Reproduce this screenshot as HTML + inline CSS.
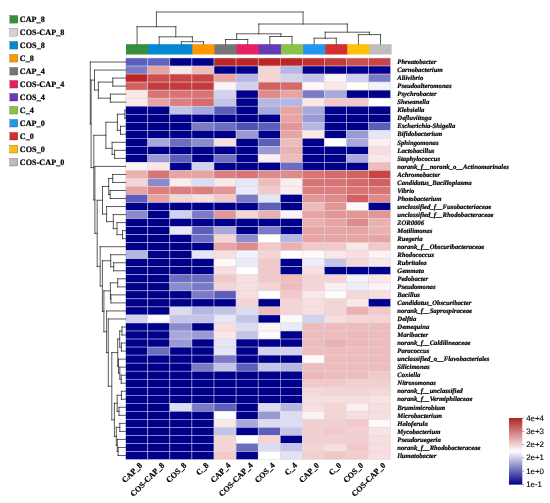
<!DOCTYPE html>
<html><head><meta charset="utf-8"><title>Heatmap</title>
<style>html,body{margin:0;padding:0;background:#fff}svg{display:block}text{text-rendering:geometricPrecision}</style>
</head><body>
<svg width="550" height="503" viewBox="0 0 550 503">
<defs><linearGradient id="g" x1="0" y1="0" x2="0" y2="1"><stop offset="0" stop-color="#b22222"/><stop offset="0.5" stop-color="#ffffff"/><stop offset="1" stop-color="#00008b"/></linearGradient></defs>
<rect width="550" height="503" fill="#fff"/>
<g font-family="'Liberation Serif', serif" font-weight="bold" font-size="8.2" fill="#000" stroke="#000" stroke-width="0.2">
<rect x="9.8" y="15.50" width="8.0" height="7.6" fill="#388E3C"/><text x="19.8" y="22.10">CAP_8</text>
<rect x="9.8" y="28.49" width="8.0" height="7.6" fill="#D3D3D3"/><text x="19.8" y="35.09">COS-CAP_8</text>
<rect x="9.8" y="41.48" width="8.0" height="7.6" fill="#0288D1"/><text x="19.8" y="48.08">COS_8</text>
<rect x="9.8" y="54.47" width="8.0" height="7.6" fill="#FF9800"/><text x="19.8" y="61.07">C_8</text>
<rect x="9.8" y="67.46" width="8.0" height="7.6" fill="#757575"/><text x="19.8" y="74.06">CAP_4</text>
<rect x="9.8" y="80.45" width="8.0" height="7.6" fill="#E91E63"/><text x="19.8" y="87.05">COS-CAP_4</text>
<rect x="9.8" y="93.44" width="8.0" height="7.6" fill="#673AB7"/><text x="19.8" y="100.04">COS_4</text>
<rect x="9.8" y="106.43" width="8.0" height="7.6" fill="#8BC34A"/><text x="19.8" y="113.03">C_4</text>
<rect x="9.8" y="119.42" width="8.0" height="7.6" fill="#2196F3"/><text x="19.8" y="126.02">CAP_0</text>
<rect x="9.8" y="132.41" width="8.0" height="7.6" fill="#D32F2F"/><text x="19.8" y="139.01">C_0</text>
<rect x="9.8" y="145.40" width="8.0" height="7.6" fill="#FFC107"/><text x="19.8" y="152.00">COS_0</text>
<rect x="9.8" y="158.39" width="8.0" height="7.6" fill="#BDBDBD"/><text x="19.8" y="164.99">COS-CAP_0</text>
</g>
<g>
<rect x="126.00" y="44.2" width="22.63" height="10.3" fill="#388E3C"/>
<rect x="148.13" y="44.2" width="44.77" height="10.3" fill="#0288D1"/>
<rect x="192.40" y="44.2" width="22.63" height="10.3" fill="#FF9800"/>
<rect x="214.53" y="44.2" width="22.63" height="10.3" fill="#757575"/>
<rect x="236.67" y="44.2" width="22.63" height="10.3" fill="#E91E63"/>
<rect x="258.80" y="44.2" width="22.63" height="10.3" fill="#673AB7"/>
<rect x="280.93" y="44.2" width="22.63" height="10.3" fill="#8BC34A"/>
<rect x="303.07" y="44.2" width="22.63" height="10.3" fill="#2196F3"/>
<rect x="325.20" y="44.2" width="22.63" height="10.3" fill="#D32F2F"/>
<rect x="347.33" y="44.2" width="22.63" height="10.3" fill="#FFC107"/>
<rect x="369.47" y="44.2" width="22.13" height="10.3" fill="#BDBDBD"/>
</g>
<g stroke="#d8d8e0" stroke-width="0.45">
<rect x="125.75" y="58.00" width="22.07" height="8.03" fill="#5d5dbb"/>
<rect x="147.82" y="58.00" width="22.07" height="8.03" fill="#6363bd"/>
<rect x="169.88" y="58.00" width="22.07" height="8.03" fill="#00008b"/>
<rect x="191.95" y="58.00" width="22.07" height="8.03" fill="#00008b"/>
<rect x="214.02" y="58.00" width="22.07" height="8.03" fill="#bc2626"/>
<rect x="236.08" y="58.00" width="22.07" height="8.03" fill="#bc2626"/>
<rect x="258.15" y="58.00" width="22.07" height="8.03" fill="#bc2626"/>
<rect x="280.22" y="58.00" width="22.07" height="8.03" fill="#bc2626"/>
<rect x="302.28" y="58.00" width="22.07" height="8.03" fill="#c03030"/>
<rect x="324.35" y="58.00" width="22.07" height="8.03" fill="#c53a3a"/>
<rect x="346.42" y="58.00" width="22.07" height="8.03" fill="#cd5050"/>
<rect x="368.48" y="58.00" width="22.07" height="8.03" fill="#c94545"/>
<rect x="125.75" y="66.03" width="22.07" height="8.03" fill="#7a7ac7"/>
<rect x="147.82" y="66.03" width="22.07" height="8.03" fill="#e8a3a3"/>
<rect x="169.88" y="66.03" width="22.07" height="8.03" fill="#fae8e8"/>
<rect x="191.95" y="66.03" width="22.07" height="8.03" fill="#eebcbc"/>
<rect x="214.02" y="66.03" width="22.07" height="8.03" fill="#00008b"/>
<rect x="236.08" y="66.03" width="22.07" height="8.03" fill="#00008b"/>
<rect x="258.15" y="66.03" width="22.07" height="8.03" fill="#f5d4d4"/>
<rect x="280.22" y="66.03" width="22.07" height="8.03" fill="#b6b6e3"/>
<rect x="302.28" y="66.03" width="22.07" height="8.03" fill="#00008b"/>
<rect x="324.35" y="66.03" width="22.07" height="8.03" fill="#00008b"/>
<rect x="346.42" y="66.03" width="22.07" height="8.03" fill="#00008b"/>
<rect x="368.48" y="66.03" width="22.07" height="8.03" fill="#00008b"/>
<rect x="125.75" y="74.06" width="22.07" height="8.03" fill="#bc2626"/>
<rect x="147.82" y="74.06" width="22.07" height="8.03" fill="#cd5050"/>
<rect x="169.88" y="74.06" width="22.07" height="8.03" fill="#c94545"/>
<rect x="191.95" y="74.06" width="22.07" height="8.03" fill="#c94545"/>
<rect x="214.02" y="74.06" width="22.07" height="8.03" fill="#e8a3a3"/>
<rect x="236.08" y="74.06" width="22.07" height="8.03" fill="#b6b6e3"/>
<rect x="258.15" y="74.06" width="22.07" height="8.03" fill="#f5d4d4"/>
<rect x="280.22" y="74.06" width="22.07" height="8.03" fill="#d2d2ee"/>
<rect x="302.28" y="74.06" width="22.07" height="8.03" fill="#c4c4e8"/>
<rect x="324.35" y="74.06" width="22.07" height="8.03" fill="#fcf4f4"/>
<rect x="346.42" y="74.06" width="22.07" height="8.03" fill="#d2d2ee"/>
<rect x="368.48" y="74.06" width="22.07" height="8.03" fill="#7a7ac7"/>
<rect x="125.75" y="82.09" width="22.07" height="8.03" fill="#d46161"/>
<rect x="147.82" y="82.09" width="22.07" height="8.03" fill="#c53a3a"/>
<rect x="169.88" y="82.09" width="22.07" height="8.03" fill="#c53a3a"/>
<rect x="191.95" y="82.09" width="22.07" height="8.03" fill="#c53a3a"/>
<rect x="214.02" y="82.09" width="22.07" height="8.03" fill="#fcf4f4"/>
<rect x="236.08" y="82.09" width="22.07" height="8.03" fill="#d2d2ee"/>
<rect x="258.15" y="82.09" width="22.07" height="8.03" fill="#d46161"/>
<rect x="280.22" y="82.09" width="22.07" height="8.03" fill="#d76a6a"/>
<rect x="302.28" y="82.09" width="22.07" height="8.03" fill="#fef8f8"/>
<rect x="324.35" y="82.09" width="22.07" height="8.03" fill="#fae8e8"/>
<rect x="346.42" y="82.09" width="22.07" height="8.03" fill="#ffffff"/>
<rect x="368.48" y="82.09" width="22.07" height="8.03" fill="#f2f2fa"/>
<rect x="125.75" y="90.12" width="22.07" height="8.03" fill="#fae8e8"/>
<rect x="147.82" y="90.12" width="22.07" height="8.03" fill="#da7474"/>
<rect x="169.88" y="90.12" width="22.07" height="8.03" fill="#da7474"/>
<rect x="191.95" y="90.12" width="22.07" height="8.03" fill="#da7474"/>
<rect x="214.02" y="90.12" width="22.07" height="8.03" fill="#d2d2ee"/>
<rect x="236.08" y="90.12" width="22.07" height="8.03" fill="#00008b"/>
<rect x="258.15" y="90.12" width="22.07" height="8.03" fill="#e18a8a"/>
<rect x="280.22" y="90.12" width="22.07" height="8.03" fill="#e8a3a3"/>
<rect x="302.28" y="90.12" width="22.07" height="8.03" fill="#7a7ac7"/>
<rect x="324.35" y="90.12" width="22.07" height="8.03" fill="#a8a8dc"/>
<rect x="346.42" y="90.12" width="22.07" height="8.03" fill="#00008b"/>
<rect x="368.48" y="90.12" width="22.07" height="8.03" fill="#00008b"/>
<rect x="125.75" y="98.15" width="22.07" height="8.03" fill="#fae8e8"/>
<rect x="147.82" y="98.15" width="22.07" height="8.03" fill="#e8a3a3"/>
<rect x="169.88" y="98.15" width="22.07" height="8.03" fill="#de7f7f"/>
<rect x="191.95" y="98.15" width="22.07" height="8.03" fill="#d76a6a"/>
<rect x="214.02" y="98.15" width="22.07" height="8.03" fill="#c4c4e8"/>
<rect x="236.08" y="98.15" width="22.07" height="8.03" fill="#00008b"/>
<rect x="258.15" y="98.15" width="22.07" height="8.03" fill="#b6b6e3"/>
<rect x="280.22" y="98.15" width="22.07" height="8.03" fill="#b6b6e3"/>
<rect x="302.28" y="98.15" width="22.07" height="8.03" fill="#fae8e8"/>
<rect x="324.35" y="98.15" width="22.07" height="8.03" fill="#f2c8c8"/>
<rect x="346.42" y="98.15" width="22.07" height="8.03" fill="#f2c8c8"/>
<rect x="368.48" y="98.15" width="22.07" height="8.03" fill="#ffffff"/>
<rect x="125.75" y="106.18" width="22.07" height="8.03" fill="#00008b"/>
<rect x="147.82" y="106.18" width="22.07" height="8.03" fill="#00008b"/>
<rect x="169.88" y="106.18" width="22.07" height="8.03" fill="#c4c4e8"/>
<rect x="191.95" y="106.18" width="22.07" height="8.03" fill="#a8a8dc"/>
<rect x="214.02" y="106.18" width="22.07" height="8.03" fill="#5d5dbb"/>
<rect x="236.08" y="106.18" width="22.07" height="8.03" fill="#00008b"/>
<rect x="258.15" y="106.18" width="22.07" height="8.03" fill="#a8a8dc"/>
<rect x="280.22" y="106.18" width="22.07" height="8.03" fill="#e8a3a3"/>
<rect x="302.28" y="106.18" width="22.07" height="8.03" fill="#a8a8dc"/>
<rect x="324.35" y="106.18" width="22.07" height="8.03" fill="#00008b"/>
<rect x="346.42" y="106.18" width="22.07" height="8.03" fill="#00008b"/>
<rect x="368.48" y="106.18" width="22.07" height="8.03" fill="#00008b"/>
<rect x="125.75" y="114.21" width="22.07" height="8.03" fill="#00008b"/>
<rect x="147.82" y="114.21" width="22.07" height="8.03" fill="#00008b"/>
<rect x="169.88" y="114.21" width="22.07" height="8.03" fill="#00008b"/>
<rect x="191.95" y="114.21" width="22.07" height="8.03" fill="#00008b"/>
<rect x="214.02" y="114.21" width="22.07" height="8.03" fill="#00008b"/>
<rect x="236.08" y="114.21" width="22.07" height="8.03" fill="#00008b"/>
<rect x="258.15" y="114.21" width="22.07" height="8.03" fill="#00008b"/>
<rect x="280.22" y="114.21" width="22.07" height="8.03" fill="#e8a3a3"/>
<rect x="302.28" y="114.21" width="22.07" height="8.03" fill="#9999d6"/>
<rect x="324.35" y="114.21" width="22.07" height="8.03" fill="#00008b"/>
<rect x="346.42" y="114.21" width="22.07" height="8.03" fill="#00008b"/>
<rect x="368.48" y="114.21" width="22.07" height="8.03" fill="#00008b"/>
<rect x="125.75" y="122.24" width="22.07" height="8.03" fill="#00008b"/>
<rect x="147.82" y="122.24" width="22.07" height="8.03" fill="#00008b"/>
<rect x="169.88" y="122.24" width="22.07" height="8.03" fill="#00008b"/>
<rect x="191.95" y="122.24" width="22.07" height="8.03" fill="#7a7ac7"/>
<rect x="214.02" y="122.24" width="22.07" height="8.03" fill="#6c6cc1"/>
<rect x="236.08" y="122.24" width="22.07" height="8.03" fill="#5151b5"/>
<rect x="258.15" y="122.24" width="22.07" height="8.03" fill="#5d5dbb"/>
<rect x="280.22" y="122.24" width="22.07" height="8.03" fill="#e49696"/>
<rect x="302.28" y="122.24" width="22.07" height="8.03" fill="#b6b6e3"/>
<rect x="324.35" y="122.24" width="22.07" height="8.03" fill="#00008b"/>
<rect x="346.42" y="122.24" width="22.07" height="8.03" fill="#00008b"/>
<rect x="368.48" y="122.24" width="22.07" height="8.03" fill="#5d5dbb"/>
<rect x="125.75" y="130.27" width="22.07" height="8.03" fill="#00008b"/>
<rect x="147.82" y="130.27" width="22.07" height="8.03" fill="#00008b"/>
<rect x="169.88" y="130.27" width="22.07" height="8.03" fill="#00008b"/>
<rect x="191.95" y="130.27" width="22.07" height="8.03" fill="#00008b"/>
<rect x="214.02" y="130.27" width="22.07" height="8.03" fill="#00008b"/>
<rect x="236.08" y="130.27" width="22.07" height="8.03" fill="#9999d6"/>
<rect x="258.15" y="130.27" width="22.07" height="8.03" fill="#00008b"/>
<rect x="280.22" y="130.27" width="22.07" height="8.03" fill="#e8a3a3"/>
<rect x="302.28" y="130.27" width="22.07" height="8.03" fill="#fae8e8"/>
<rect x="324.35" y="130.27" width="22.07" height="8.03" fill="#00008b"/>
<rect x="346.42" y="130.27" width="22.07" height="8.03" fill="#9999d6"/>
<rect x="368.48" y="130.27" width="22.07" height="8.03" fill="#e6e6f6"/>
<rect x="125.75" y="138.30" width="22.07" height="8.03" fill="#00008b"/>
<rect x="147.82" y="138.30" width="22.07" height="8.03" fill="#a8a8dc"/>
<rect x="169.88" y="138.30" width="22.07" height="8.03" fill="#6c6cc1"/>
<rect x="191.95" y="138.30" width="22.07" height="8.03" fill="#8a8ace"/>
<rect x="214.02" y="138.30" width="22.07" height="8.03" fill="#f8dede"/>
<rect x="236.08" y="138.30" width="22.07" height="8.03" fill="#00008b"/>
<rect x="258.15" y="138.30" width="22.07" height="8.03" fill="#5d5dbb"/>
<rect x="280.22" y="138.30" width="22.07" height="8.03" fill="#eebcbc"/>
<rect x="302.28" y="138.30" width="22.07" height="8.03" fill="#00008b"/>
<rect x="324.35" y="138.30" width="22.07" height="8.03" fill="#ffffff"/>
<rect x="346.42" y="138.30" width="22.07" height="8.03" fill="#a8a8dc"/>
<rect x="368.48" y="138.30" width="22.07" height="8.03" fill="#fcefef"/>
<rect x="125.75" y="146.33" width="22.07" height="8.03" fill="#00008b"/>
<rect x="147.82" y="146.33" width="22.07" height="8.03" fill="#00008b"/>
<rect x="169.88" y="146.33" width="22.07" height="8.03" fill="#00008b"/>
<rect x="191.95" y="146.33" width="22.07" height="8.03" fill="#00008b"/>
<rect x="214.02" y="146.33" width="22.07" height="8.03" fill="#00008b"/>
<rect x="236.08" y="146.33" width="22.07" height="8.03" fill="#00008b"/>
<rect x="258.15" y="146.33" width="22.07" height="8.03" fill="#9999d6"/>
<rect x="280.22" y="146.33" width="22.07" height="8.03" fill="#ebb0b0"/>
<rect x="302.28" y="146.33" width="22.07" height="8.03" fill="#00008b"/>
<rect x="324.35" y="146.33" width="22.07" height="8.03" fill="#00008b"/>
<rect x="346.42" y="146.33" width="22.07" height="8.03" fill="#00008b"/>
<rect x="368.48" y="146.33" width="22.07" height="8.03" fill="#f8dede"/>
<rect x="125.75" y="154.36" width="22.07" height="8.03" fill="#00008b"/>
<rect x="147.82" y="154.36" width="22.07" height="8.03" fill="#9999d6"/>
<rect x="169.88" y="154.36" width="22.07" height="8.03" fill="#5d5dbb"/>
<rect x="191.95" y="154.36" width="22.07" height="8.03" fill="#00008b"/>
<rect x="214.02" y="154.36" width="22.07" height="8.03" fill="#6c6cc1"/>
<rect x="236.08" y="154.36" width="22.07" height="8.03" fill="#00008b"/>
<rect x="258.15" y="154.36" width="22.07" height="8.03" fill="#fcefef"/>
<rect x="280.22" y="154.36" width="22.07" height="8.03" fill="#eebcbc"/>
<rect x="302.28" y="154.36" width="22.07" height="8.03" fill="#00008b"/>
<rect x="324.35" y="154.36" width="22.07" height="8.03" fill="#00008b"/>
<rect x="346.42" y="154.36" width="22.07" height="8.03" fill="#a8a8dc"/>
<rect x="368.48" y="154.36" width="22.07" height="8.03" fill="#fae8e8"/>
<rect x="125.75" y="162.39" width="22.07" height="8.03" fill="#fcf4f4"/>
<rect x="147.82" y="162.39" width="22.07" height="8.03" fill="#fae8e8"/>
<rect x="169.88" y="162.39" width="22.07" height="8.03" fill="#00008b"/>
<rect x="191.95" y="162.39" width="22.07" height="8.03" fill="#d2d2ee"/>
<rect x="214.02" y="162.39" width="22.07" height="8.03" fill="#00008b"/>
<rect x="236.08" y="162.39" width="22.07" height="8.03" fill="#00008b"/>
<rect x="258.15" y="162.39" width="22.07" height="8.03" fill="#00008b"/>
<rect x="280.22" y="162.39" width="22.07" height="8.03" fill="#6c6cc1"/>
<rect x="302.28" y="162.39" width="22.07" height="8.03" fill="#00008b"/>
<rect x="324.35" y="162.39" width="22.07" height="8.03" fill="#00008b"/>
<rect x="346.42" y="162.39" width="22.07" height="8.03" fill="#00008b"/>
<rect x="368.48" y="162.39" width="22.07" height="8.03" fill="#eebcbc"/>
<rect x="125.75" y="170.42" width="22.07" height="8.03" fill="#ebb0b0"/>
<rect x="147.82" y="170.42" width="22.07" height="8.03" fill="#da7474"/>
<rect x="169.88" y="170.42" width="22.07" height="8.03" fill="#e8a3a3"/>
<rect x="191.95" y="170.42" width="22.07" height="8.03" fill="#e8a3a3"/>
<rect x="214.02" y="170.42" width="22.07" height="8.03" fill="#de7f7f"/>
<rect x="236.08" y="170.42" width="22.07" height="8.03" fill="#da7474"/>
<rect x="258.15" y="170.42" width="22.07" height="8.03" fill="#e18a8a"/>
<rect x="280.22" y="170.42" width="22.07" height="8.03" fill="#e18a8a"/>
<rect x="302.28" y="170.42" width="22.07" height="8.03" fill="#da7474"/>
<rect x="324.35" y="170.42" width="22.07" height="8.03" fill="#d76a6a"/>
<rect x="346.42" y="170.42" width="22.07" height="8.03" fill="#d46161"/>
<rect x="368.48" y="170.42" width="22.07" height="8.03" fill="#c94545"/>
<rect x="125.75" y="178.45" width="22.07" height="8.03" fill="#f5d4d4"/>
<rect x="147.82" y="178.45" width="22.07" height="8.03" fill="#8a8ace"/>
<rect x="169.88" y="178.45" width="22.07" height="8.03" fill="#fbeded"/>
<rect x="191.95" y="178.45" width="22.07" height="8.03" fill="#dcdcf2"/>
<rect x="214.02" y="178.45" width="22.07" height="8.03" fill="#fae8e8"/>
<rect x="236.08" y="178.45" width="22.07" height="8.03" fill="#e6e6f6"/>
<rect x="258.15" y="178.45" width="22.07" height="8.03" fill="#eebcbc"/>
<rect x="280.22" y="178.45" width="22.07" height="8.03" fill="#fbeded"/>
<rect x="302.28" y="178.45" width="22.07" height="8.03" fill="#da7474"/>
<rect x="324.35" y="178.45" width="22.07" height="8.03" fill="#da7474"/>
<rect x="346.42" y="178.45" width="22.07" height="8.03" fill="#d76a6a"/>
<rect x="368.48" y="178.45" width="22.07" height="8.03" fill="#d46161"/>
<rect x="125.75" y="186.48" width="22.07" height="8.03" fill="#e8a3a3"/>
<rect x="147.82" y="186.48" width="22.07" height="8.03" fill="#de7f7f"/>
<rect x="169.88" y="186.48" width="22.07" height="8.03" fill="#de7f7f"/>
<rect x="191.95" y="186.48" width="22.07" height="8.03" fill="#de7f7f"/>
<rect x="214.02" y="186.48" width="22.07" height="8.03" fill="#e49696"/>
<rect x="236.08" y="186.48" width="22.07" height="8.03" fill="#ebebf8"/>
<rect x="258.15" y="186.48" width="22.07" height="8.03" fill="#f2c8c8"/>
<rect x="280.22" y="186.48" width="22.07" height="8.03" fill="#fbeded"/>
<rect x="302.28" y="186.48" width="22.07" height="8.03" fill="#de7f7f"/>
<rect x="324.35" y="186.48" width="22.07" height="8.03" fill="#de7f7f"/>
<rect x="346.42" y="186.48" width="22.07" height="8.03" fill="#da7474"/>
<rect x="368.48" y="186.48" width="22.07" height="8.03" fill="#da7474"/>
<rect x="125.75" y="194.51" width="22.07" height="8.03" fill="#5d5dbb"/>
<rect x="147.82" y="194.51" width="22.07" height="8.03" fill="#e8a3a3"/>
<rect x="169.88" y="194.51" width="22.07" height="8.03" fill="#f5d4d4"/>
<rect x="191.95" y="194.51" width="22.07" height="8.03" fill="#f8dede"/>
<rect x="214.02" y="194.51" width="22.07" height="8.03" fill="#f2c8c8"/>
<rect x="236.08" y="194.51" width="22.07" height="8.03" fill="#7a7ac7"/>
<rect x="258.15" y="194.51" width="22.07" height="8.03" fill="#e6e6f6"/>
<rect x="280.22" y="194.51" width="22.07" height="8.03" fill="#00008b"/>
<rect x="302.28" y="194.51" width="22.07" height="8.03" fill="#e49696"/>
<rect x="324.35" y="194.51" width="22.07" height="8.03" fill="#e18a8a"/>
<rect x="346.42" y="194.51" width="22.07" height="8.03" fill="#d46161"/>
<rect x="368.48" y="194.51" width="22.07" height="8.03" fill="#e18a8a"/>
<rect x="125.75" y="202.54" width="22.07" height="8.03" fill="#00008b"/>
<rect x="147.82" y="202.54" width="22.07" height="8.03" fill="#00008b"/>
<rect x="169.88" y="202.54" width="22.07" height="8.03" fill="#00008b"/>
<rect x="191.95" y="202.54" width="22.07" height="8.03" fill="#00008b"/>
<rect x="214.02" y="202.54" width="22.07" height="8.03" fill="#00008b"/>
<rect x="236.08" y="202.54" width="22.07" height="8.03" fill="#00008b"/>
<rect x="258.15" y="202.54" width="22.07" height="8.03" fill="#5d5dbb"/>
<rect x="280.22" y="202.54" width="22.07" height="8.03" fill="#00008b"/>
<rect x="302.28" y="202.54" width="22.07" height="8.03" fill="#eebcbc"/>
<rect x="324.35" y="202.54" width="22.07" height="8.03" fill="#e49696"/>
<rect x="346.42" y="202.54" width="22.07" height="8.03" fill="#fef8f8"/>
<rect x="368.48" y="202.54" width="22.07" height="8.03" fill="#00008b"/>
<rect x="125.75" y="210.57" width="22.07" height="8.03" fill="#8a8ace"/>
<rect x="147.82" y="210.57" width="22.07" height="8.03" fill="#00008b"/>
<rect x="169.88" y="210.57" width="22.07" height="8.03" fill="#d2d2ee"/>
<rect x="191.95" y="210.57" width="22.07" height="8.03" fill="#7a7ac7"/>
<rect x="214.02" y="210.57" width="22.07" height="8.03" fill="#e49696"/>
<rect x="236.08" y="210.57" width="22.07" height="8.03" fill="#f5d4d4"/>
<rect x="258.15" y="210.57" width="22.07" height="8.03" fill="#ebb0b0"/>
<rect x="280.22" y="210.57" width="22.07" height="8.03" fill="#fcf4f4"/>
<rect x="302.28" y="210.57" width="22.07" height="8.03" fill="#e8a3a3"/>
<rect x="324.35" y="210.57" width="22.07" height="8.03" fill="#e49696"/>
<rect x="346.42" y="210.57" width="22.07" height="8.03" fill="#e49696"/>
<rect x="368.48" y="210.57" width="22.07" height="8.03" fill="#e49696"/>
<rect x="125.75" y="218.60" width="22.07" height="8.03" fill="#00008b"/>
<rect x="147.82" y="218.60" width="22.07" height="8.03" fill="#00008b"/>
<rect x="169.88" y="218.60" width="22.07" height="8.03" fill="#00008b"/>
<rect x="191.95" y="218.60" width="22.07" height="8.03" fill="#00008b"/>
<rect x="214.02" y="218.60" width="22.07" height="8.03" fill="#00008b"/>
<rect x="236.08" y="218.60" width="22.07" height="8.03" fill="#00008b"/>
<rect x="258.15" y="218.60" width="22.07" height="8.03" fill="#00008b"/>
<rect x="280.22" y="218.60" width="22.07" height="8.03" fill="#00008b"/>
<rect x="302.28" y="218.60" width="22.07" height="8.03" fill="#ebb0b0"/>
<rect x="324.35" y="218.60" width="22.07" height="8.03" fill="#e8a3a3"/>
<rect x="346.42" y="218.60" width="22.07" height="8.03" fill="#e18a8a"/>
<rect x="368.48" y="218.60" width="22.07" height="8.03" fill="#ebb0b0"/>
<rect x="125.75" y="226.63" width="22.07" height="8.03" fill="#00008b"/>
<rect x="147.82" y="226.63" width="22.07" height="8.03" fill="#00008b"/>
<rect x="169.88" y="226.63" width="22.07" height="8.03" fill="#e6e6f6"/>
<rect x="191.95" y="226.63" width="22.07" height="8.03" fill="#5d5dbb"/>
<rect x="214.02" y="226.63" width="22.07" height="8.03" fill="#a8a8dc"/>
<rect x="236.08" y="226.63" width="22.07" height="8.03" fill="#00008b"/>
<rect x="258.15" y="226.63" width="22.07" height="8.03" fill="#7a7ac7"/>
<rect x="280.22" y="226.63" width="22.07" height="8.03" fill="#00008b"/>
<rect x="302.28" y="226.63" width="22.07" height="8.03" fill="#e8a3a3"/>
<rect x="324.35" y="226.63" width="22.07" height="8.03" fill="#e8a3a3"/>
<rect x="346.42" y="226.63" width="22.07" height="8.03" fill="#e8a3a3"/>
<rect x="368.48" y="226.63" width="22.07" height="8.03" fill="#ebb0b0"/>
<rect x="125.75" y="234.66" width="22.07" height="8.03" fill="#00008b"/>
<rect x="147.82" y="234.66" width="22.07" height="8.03" fill="#00008b"/>
<rect x="169.88" y="234.66" width="22.07" height="8.03" fill="#00008b"/>
<rect x="191.95" y="234.66" width="22.07" height="8.03" fill="#6c6cc1"/>
<rect x="214.02" y="234.66" width="22.07" height="8.03" fill="#f5d4d4"/>
<rect x="236.08" y="234.66" width="22.07" height="8.03" fill="#8a8ace"/>
<rect x="258.15" y="234.66" width="22.07" height="8.03" fill="#ffffff"/>
<rect x="280.22" y="234.66" width="22.07" height="8.03" fill="#b6b6e3"/>
<rect x="302.28" y="234.66" width="22.07" height="8.03" fill="#e8a3a3"/>
<rect x="324.35" y="234.66" width="22.07" height="8.03" fill="#e8a3a3"/>
<rect x="346.42" y="234.66" width="22.07" height="8.03" fill="#e8a3a3"/>
<rect x="368.48" y="234.66" width="22.07" height="8.03" fill="#e8a3a3"/>
<rect x="125.75" y="242.69" width="22.07" height="8.03" fill="#00008b"/>
<rect x="147.82" y="242.69" width="22.07" height="8.03" fill="#00008b"/>
<rect x="169.88" y="242.69" width="22.07" height="8.03" fill="#00008b"/>
<rect x="191.95" y="242.69" width="22.07" height="8.03" fill="#00008b"/>
<rect x="214.02" y="242.69" width="22.07" height="8.03" fill="#e8a3a3"/>
<rect x="236.08" y="242.69" width="22.07" height="8.03" fill="#e18a8a"/>
<rect x="258.15" y="242.69" width="22.07" height="8.03" fill="#f2c8c8"/>
<rect x="280.22" y="242.69" width="22.07" height="8.03" fill="#ebb0b0"/>
<rect x="302.28" y="242.69" width="22.07" height="8.03" fill="#f2c8c8"/>
<rect x="324.35" y="242.69" width="22.07" height="8.03" fill="#f2c8c8"/>
<rect x="346.42" y="242.69" width="22.07" height="8.03" fill="#fae8e8"/>
<rect x="368.48" y="242.69" width="22.07" height="8.03" fill="#f2c8c8"/>
<rect x="125.75" y="250.72" width="22.07" height="8.03" fill="#b6b6e3"/>
<rect x="147.82" y="250.72" width="22.07" height="8.03" fill="#00008b"/>
<rect x="169.88" y="250.72" width="22.07" height="8.03" fill="#00008b"/>
<rect x="191.95" y="250.72" width="22.07" height="8.03" fill="#e6e6f6"/>
<rect x="214.02" y="250.72" width="22.07" height="8.03" fill="#f8dede"/>
<rect x="236.08" y="250.72" width="22.07" height="8.03" fill="#f2f2fa"/>
<rect x="258.15" y="250.72" width="22.07" height="8.03" fill="#f5d4d4"/>
<rect x="280.22" y="250.72" width="22.07" height="8.03" fill="#ffffff"/>
<rect x="302.28" y="250.72" width="22.07" height="8.03" fill="#fefafa"/>
<rect x="324.35" y="250.72" width="22.07" height="8.03" fill="#fae8e8"/>
<rect x="346.42" y="250.72" width="22.07" height="8.03" fill="#f8dede"/>
<rect x="368.48" y="250.72" width="22.07" height="8.03" fill="#fcf4f4"/>
<rect x="125.75" y="258.75" width="22.07" height="8.03" fill="#00008b"/>
<rect x="147.82" y="258.75" width="22.07" height="8.03" fill="#00008b"/>
<rect x="169.88" y="258.75" width="22.07" height="8.03" fill="#00008b"/>
<rect x="191.95" y="258.75" width="22.07" height="8.03" fill="#00008b"/>
<rect x="214.02" y="258.75" width="22.07" height="8.03" fill="#fef8f8"/>
<rect x="236.08" y="258.75" width="22.07" height="8.03" fill="#ebebf8"/>
<rect x="258.15" y="258.75" width="22.07" height="8.03" fill="#f2c8c8"/>
<rect x="280.22" y="258.75" width="22.07" height="8.03" fill="#00008b"/>
<rect x="302.28" y="258.75" width="22.07" height="8.03" fill="#eeeef9"/>
<rect x="324.35" y="258.75" width="22.07" height="8.03" fill="#c4c4e8"/>
<rect x="346.42" y="258.75" width="22.07" height="8.03" fill="#f6d8d8"/>
<rect x="368.48" y="258.75" width="22.07" height="8.03" fill="#fae8e8"/>
<rect x="125.75" y="266.78" width="22.07" height="8.03" fill="#00008b"/>
<rect x="147.82" y="266.78" width="22.07" height="8.03" fill="#00008b"/>
<rect x="169.88" y="266.78" width="22.07" height="8.03" fill="#00008b"/>
<rect x="191.95" y="266.78" width="22.07" height="8.03" fill="#00008b"/>
<rect x="214.02" y="266.78" width="22.07" height="8.03" fill="#f8dede"/>
<rect x="236.08" y="266.78" width="22.07" height="8.03" fill="#ffffff"/>
<rect x="258.15" y="266.78" width="22.07" height="8.03" fill="#f2c8c8"/>
<rect x="280.22" y="266.78" width="22.07" height="8.03" fill="#00008b"/>
<rect x="302.28" y="266.78" width="22.07" height="8.03" fill="#f8dede"/>
<rect x="324.35" y="266.78" width="22.07" height="8.03" fill="#00008b"/>
<rect x="346.42" y="266.78" width="22.07" height="8.03" fill="#00008b"/>
<rect x="368.48" y="266.78" width="22.07" height="8.03" fill="#00008b"/>
<rect x="125.75" y="274.81" width="22.07" height="8.03" fill="#00008b"/>
<rect x="147.82" y="274.81" width="22.07" height="8.03" fill="#00008b"/>
<rect x="169.88" y="274.81" width="22.07" height="8.03" fill="#6c6cc1"/>
<rect x="191.95" y="274.81" width="22.07" height="8.03" fill="#6c6cc1"/>
<rect x="214.02" y="274.81" width="22.07" height="8.03" fill="#f2c8c8"/>
<rect x="236.08" y="274.81" width="22.07" height="8.03" fill="#f8dede"/>
<rect x="258.15" y="274.81" width="22.07" height="8.03" fill="#f2c8c8"/>
<rect x="280.22" y="274.81" width="22.07" height="8.03" fill="#eebcbc"/>
<rect x="302.28" y="274.81" width="22.07" height="8.03" fill="#f5d4d4"/>
<rect x="324.35" y="274.81" width="22.07" height="8.03" fill="#f5d4d4"/>
<rect x="346.42" y="274.81" width="22.07" height="8.03" fill="#f2f2fa"/>
<rect x="368.48" y="274.81" width="22.07" height="8.03" fill="#fae8e8"/>
<rect x="125.75" y="282.84" width="22.07" height="8.03" fill="#00008b"/>
<rect x="147.82" y="282.84" width="22.07" height="8.03" fill="#00008b"/>
<rect x="169.88" y="282.84" width="22.07" height="8.03" fill="#8a8ace"/>
<rect x="191.95" y="282.84" width="22.07" height="8.03" fill="#7a7ac7"/>
<rect x="214.02" y="282.84" width="22.07" height="8.03" fill="#f5d4d4"/>
<rect x="236.08" y="282.84" width="22.07" height="8.03" fill="#f8dede"/>
<rect x="258.15" y="282.84" width="22.07" height="8.03" fill="#f5d4d4"/>
<rect x="280.22" y="282.84" width="22.07" height="8.03" fill="#eebcbc"/>
<rect x="302.28" y="282.84" width="22.07" height="8.03" fill="#f5d4d4"/>
<rect x="324.35" y="282.84" width="22.07" height="8.03" fill="#fcefef"/>
<rect x="346.42" y="282.84" width="22.07" height="8.03" fill="#eeeef9"/>
<rect x="368.48" y="282.84" width="22.07" height="8.03" fill="#fcf4f4"/>
<rect x="125.75" y="290.87" width="22.07" height="8.03" fill="#00008b"/>
<rect x="147.82" y="290.87" width="22.07" height="8.03" fill="#00008b"/>
<rect x="169.88" y="290.87" width="22.07" height="8.03" fill="#00008b"/>
<rect x="191.95" y="290.87" width="22.07" height="8.03" fill="#7a7ac7"/>
<rect x="214.02" y="290.87" width="22.07" height="8.03" fill="#5d5dbb"/>
<rect x="236.08" y="290.87" width="22.07" height="8.03" fill="#f8dede"/>
<rect x="258.15" y="290.87" width="22.07" height="8.03" fill="#ffffff"/>
<rect x="280.22" y="290.87" width="22.07" height="8.03" fill="#f2c8c8"/>
<rect x="302.28" y="290.87" width="22.07" height="8.03" fill="#fae8e8"/>
<rect x="324.35" y="290.87" width="22.07" height="8.03" fill="#fefdfd"/>
<rect x="346.42" y="290.87" width="22.07" height="8.03" fill="#f6d8d8"/>
<rect x="368.48" y="290.87" width="22.07" height="8.03" fill="#f8dede"/>
<rect x="125.75" y="298.90" width="22.07" height="8.03" fill="#00008b"/>
<rect x="147.82" y="298.90" width="22.07" height="8.03" fill="#00008b"/>
<rect x="169.88" y="298.90" width="22.07" height="8.03" fill="#00008b"/>
<rect x="191.95" y="298.90" width="22.07" height="8.03" fill="#00008b"/>
<rect x="214.02" y="298.90" width="22.07" height="8.03" fill="#00008b"/>
<rect x="236.08" y="298.90" width="22.07" height="8.03" fill="#f5d4d4"/>
<rect x="258.15" y="298.90" width="22.07" height="8.03" fill="#00008b"/>
<rect x="280.22" y="298.90" width="22.07" height="8.03" fill="#f5d4d4"/>
<rect x="302.28" y="298.90" width="22.07" height="8.03" fill="#f8dede"/>
<rect x="324.35" y="298.90" width="22.07" height="8.03" fill="#f5d4d4"/>
<rect x="346.42" y="298.90" width="22.07" height="8.03" fill="#fae8e8"/>
<rect x="368.48" y="298.90" width="22.07" height="8.03" fill="#00008b"/>
<rect x="125.75" y="306.93" width="22.07" height="8.03" fill="#00008b"/>
<rect x="147.82" y="306.93" width="22.07" height="8.03" fill="#00008b"/>
<rect x="169.88" y="306.93" width="22.07" height="8.03" fill="#dcdcf2"/>
<rect x="191.95" y="306.93" width="22.07" height="8.03" fill="#b6b6e3"/>
<rect x="214.02" y="306.93" width="22.07" height="8.03" fill="#c4c4e8"/>
<rect x="236.08" y="306.93" width="22.07" height="8.03" fill="#dcdcf2"/>
<rect x="258.15" y="306.93" width="22.07" height="8.03" fill="#eebcbc"/>
<rect x="280.22" y="306.93" width="22.07" height="8.03" fill="#f5d4d4"/>
<rect x="302.28" y="306.93" width="22.07" height="8.03" fill="#f8dede"/>
<rect x="324.35" y="306.93" width="22.07" height="8.03" fill="#f5d4d4"/>
<rect x="346.42" y="306.93" width="22.07" height="8.03" fill="#ebb0b0"/>
<rect x="368.48" y="306.93" width="22.07" height="8.03" fill="#f2c8c8"/>
<rect x="125.75" y="314.96" width="22.07" height="8.03" fill="#d2d2ee"/>
<rect x="147.82" y="314.96" width="22.07" height="8.03" fill="#fefafa"/>
<rect x="169.88" y="314.96" width="22.07" height="8.03" fill="#c4c4e8"/>
<rect x="191.95" y="314.96" width="22.07" height="8.03" fill="#c4c4e8"/>
<rect x="214.02" y="314.96" width="22.07" height="8.03" fill="#e6e6f6"/>
<rect x="236.08" y="314.96" width="22.07" height="8.03" fill="#c4c4e8"/>
<rect x="258.15" y="314.96" width="22.07" height="8.03" fill="#00008b"/>
<rect x="280.22" y="314.96" width="22.07" height="8.03" fill="#fef8f8"/>
<rect x="302.28" y="314.96" width="22.07" height="8.03" fill="#d2d2ee"/>
<rect x="324.35" y="314.96" width="22.07" height="8.03" fill="#f8dede"/>
<rect x="346.42" y="314.96" width="22.07" height="8.03" fill="#f5d4d4"/>
<rect x="368.48" y="314.96" width="22.07" height="8.03" fill="#f5d4d4"/>
<rect x="125.75" y="322.99" width="22.07" height="8.03" fill="#00008b"/>
<rect x="147.82" y="322.99" width="22.07" height="8.03" fill="#00008b"/>
<rect x="169.88" y="322.99" width="22.07" height="8.03" fill="#8a8ace"/>
<rect x="191.95" y="322.99" width="22.07" height="8.03" fill="#00008b"/>
<rect x="214.02" y="322.99" width="22.07" height="8.03" fill="#f8dede"/>
<rect x="236.08" y="322.99" width="22.07" height="8.03" fill="#dcdcf2"/>
<rect x="258.15" y="322.99" width="22.07" height="8.03" fill="#fcf4f4"/>
<rect x="280.22" y="322.99" width="22.07" height="8.03" fill="#ebebf8"/>
<rect x="302.28" y="322.99" width="22.07" height="8.03" fill="#eebcbc"/>
<rect x="324.35" y="322.99" width="22.07" height="8.03" fill="#eebcbc"/>
<rect x="346.42" y="322.99" width="22.07" height="8.03" fill="#eebcbc"/>
<rect x="368.48" y="322.99" width="22.07" height="8.03" fill="#eebcbc"/>
<rect x="125.75" y="331.02" width="22.07" height="8.03" fill="#00008b"/>
<rect x="147.82" y="331.02" width="22.07" height="8.03" fill="#00008b"/>
<rect x="169.88" y="331.02" width="22.07" height="8.03" fill="#a8a8dc"/>
<rect x="191.95" y="331.02" width="22.07" height="8.03" fill="#9999d6"/>
<rect x="214.02" y="331.02" width="22.07" height="8.03" fill="#fae8e8"/>
<rect x="236.08" y="331.02" width="22.07" height="8.03" fill="#c4c4e8"/>
<rect x="258.15" y="331.02" width="22.07" height="8.03" fill="#fef8f8"/>
<rect x="280.22" y="331.02" width="22.07" height="8.03" fill="#00008b"/>
<rect x="302.28" y="331.02" width="22.07" height="8.03" fill="#eebcbc"/>
<rect x="324.35" y="331.02" width="22.07" height="8.03" fill="#eebcbc"/>
<rect x="346.42" y="331.02" width="22.07" height="8.03" fill="#edb7b7"/>
<rect x="368.48" y="331.02" width="22.07" height="8.03" fill="#eebcbc"/>
<rect x="125.75" y="339.05" width="22.07" height="8.03" fill="#00008b"/>
<rect x="147.82" y="339.05" width="22.07" height="8.03" fill="#00008b"/>
<rect x="169.88" y="339.05" width="22.07" height="8.03" fill="#9999d6"/>
<rect x="191.95" y="339.05" width="22.07" height="8.03" fill="#00008b"/>
<rect x="214.02" y="339.05" width="22.07" height="8.03" fill="#e6e6f6"/>
<rect x="236.08" y="339.05" width="22.07" height="8.03" fill="#00008b"/>
<rect x="258.15" y="339.05" width="22.07" height="8.03" fill="#00008b"/>
<rect x="280.22" y="339.05" width="22.07" height="8.03" fill="#00008b"/>
<rect x="302.28" y="339.05" width="22.07" height="8.03" fill="#eebcbc"/>
<rect x="324.35" y="339.05" width="22.07" height="8.03" fill="#ebb0b0"/>
<rect x="346.42" y="339.05" width="22.07" height="8.03" fill="#edb7b7"/>
<rect x="368.48" y="339.05" width="22.07" height="8.03" fill="#eebcbc"/>
<rect x="125.75" y="347.08" width="22.07" height="8.03" fill="#00008b"/>
<rect x="147.82" y="347.08" width="22.07" height="8.03" fill="#6c6cc1"/>
<rect x="169.88" y="347.08" width="22.07" height="8.03" fill="#00008b"/>
<rect x="191.95" y="347.08" width="22.07" height="8.03" fill="#00008b"/>
<rect x="214.02" y="347.08" width="22.07" height="8.03" fill="#e6e6f6"/>
<rect x="236.08" y="347.08" width="22.07" height="8.03" fill="#00008b"/>
<rect x="258.15" y="347.08" width="22.07" height="8.03" fill="#d2d2ee"/>
<rect x="280.22" y="347.08" width="22.07" height="8.03" fill="#d2d2ee"/>
<rect x="302.28" y="347.08" width="22.07" height="8.03" fill="#eebcbc"/>
<rect x="324.35" y="347.08" width="22.07" height="8.03" fill="#eebcbc"/>
<rect x="346.42" y="347.08" width="22.07" height="8.03" fill="#eebcbc"/>
<rect x="368.48" y="347.08" width="22.07" height="8.03" fill="#eebcbc"/>
<rect x="125.75" y="355.11" width="22.07" height="8.03" fill="#00008b"/>
<rect x="147.82" y="355.11" width="22.07" height="8.03" fill="#00008b"/>
<rect x="169.88" y="355.11" width="22.07" height="8.03" fill="#00008b"/>
<rect x="191.95" y="355.11" width="22.07" height="8.03" fill="#00008b"/>
<rect x="214.02" y="355.11" width="22.07" height="8.03" fill="#7a7ac7"/>
<rect x="236.08" y="355.11" width="22.07" height="8.03" fill="#00008b"/>
<rect x="258.15" y="355.11" width="22.07" height="8.03" fill="#00008b"/>
<rect x="280.22" y="355.11" width="22.07" height="8.03" fill="#00008b"/>
<rect x="302.28" y="355.11" width="22.07" height="8.03" fill="#fef8f8"/>
<rect x="324.35" y="355.11" width="22.07" height="8.03" fill="#eebcbc"/>
<rect x="346.42" y="355.11" width="22.07" height="8.03" fill="#eebcbc"/>
<rect x="368.48" y="355.11" width="22.07" height="8.03" fill="#eebcbc"/>
<rect x="125.75" y="363.14" width="22.07" height="8.03" fill="#00008b"/>
<rect x="147.82" y="363.14" width="22.07" height="8.03" fill="#00008b"/>
<rect x="169.88" y="363.14" width="22.07" height="8.03" fill="#00008b"/>
<rect x="191.95" y="363.14" width="22.07" height="8.03" fill="#7a7ac7"/>
<rect x="214.02" y="363.14" width="22.07" height="8.03" fill="#c4c4e8"/>
<rect x="236.08" y="363.14" width="22.07" height="8.03" fill="#5d5dbb"/>
<rect x="258.15" y="363.14" width="22.07" height="8.03" fill="#c4c4e8"/>
<rect x="280.22" y="363.14" width="22.07" height="8.03" fill="#b6b6e3"/>
<rect x="302.28" y="363.14" width="22.07" height="8.03" fill="#eebcbc"/>
<rect x="324.35" y="363.14" width="22.07" height="8.03" fill="#eebcbc"/>
<rect x="346.42" y="363.14" width="22.07" height="8.03" fill="#eebcbc"/>
<rect x="368.48" y="363.14" width="22.07" height="8.03" fill="#eebcbc"/>
<rect x="125.75" y="371.17" width="22.07" height="8.03" fill="#00008b"/>
<rect x="147.82" y="371.17" width="22.07" height="8.03" fill="#00008b"/>
<rect x="169.88" y="371.17" width="22.07" height="8.03" fill="#00008b"/>
<rect x="191.95" y="371.17" width="22.07" height="8.03" fill="#00008b"/>
<rect x="214.02" y="371.17" width="22.07" height="8.03" fill="#00008b"/>
<rect x="236.08" y="371.17" width="22.07" height="8.03" fill="#00008b"/>
<rect x="258.15" y="371.17" width="22.07" height="8.03" fill="#00008b"/>
<rect x="280.22" y="371.17" width="22.07" height="8.03" fill="#00008b"/>
<rect x="302.28" y="371.17" width="22.07" height="8.03" fill="#edb7b7"/>
<rect x="324.35" y="371.17" width="22.07" height="8.03" fill="#eebcbc"/>
<rect x="346.42" y="371.17" width="22.07" height="8.03" fill="#eebcbc"/>
<rect x="368.48" y="371.17" width="22.07" height="8.03" fill="#f2c8c8"/>
<rect x="125.75" y="379.20" width="22.07" height="8.03" fill="#00008b"/>
<rect x="147.82" y="379.20" width="22.07" height="8.03" fill="#00008b"/>
<rect x="169.88" y="379.20" width="22.07" height="8.03" fill="#00008b"/>
<rect x="191.95" y="379.20" width="22.07" height="8.03" fill="#00008b"/>
<rect x="214.02" y="379.20" width="22.07" height="8.03" fill="#00008b"/>
<rect x="236.08" y="379.20" width="22.07" height="8.03" fill="#00008b"/>
<rect x="258.15" y="379.20" width="22.07" height="8.03" fill="#00008b"/>
<rect x="280.22" y="379.20" width="22.07" height="8.03" fill="#00008b"/>
<rect x="302.28" y="379.20" width="22.07" height="8.03" fill="#f2c8c8"/>
<rect x="324.35" y="379.20" width="22.07" height="8.03" fill="#f2c8c8"/>
<rect x="346.42" y="379.20" width="22.07" height="8.03" fill="#f4cfcf"/>
<rect x="368.48" y="379.20" width="22.07" height="8.03" fill="#f4cfcf"/>
<rect x="125.75" y="387.23" width="22.07" height="8.03" fill="#00008b"/>
<rect x="147.82" y="387.23" width="22.07" height="8.03" fill="#00008b"/>
<rect x="169.88" y="387.23" width="22.07" height="8.03" fill="#00008b"/>
<rect x="191.95" y="387.23" width="22.07" height="8.03" fill="#00008b"/>
<rect x="214.02" y="387.23" width="22.07" height="8.03" fill="#00008b"/>
<rect x="236.08" y="387.23" width="22.07" height="8.03" fill="#00008b"/>
<rect x="258.15" y="387.23" width="22.07" height="8.03" fill="#00008b"/>
<rect x="280.22" y="387.23" width="22.07" height="8.03" fill="#00008b"/>
<rect x="302.28" y="387.23" width="22.07" height="8.03" fill="#f6d8d8"/>
<rect x="324.35" y="387.23" width="22.07" height="8.03" fill="#f5d4d4"/>
<rect x="346.42" y="387.23" width="22.07" height="8.03" fill="#f5d4d4"/>
<rect x="368.48" y="387.23" width="22.07" height="8.03" fill="#f6d8d8"/>
<rect x="125.75" y="395.26" width="22.07" height="8.03" fill="#00008b"/>
<rect x="147.82" y="395.26" width="22.07" height="8.03" fill="#00008b"/>
<rect x="169.88" y="395.26" width="22.07" height="8.03" fill="#00008b"/>
<rect x="191.95" y="395.26" width="22.07" height="8.03" fill="#00008b"/>
<rect x="214.02" y="395.26" width="22.07" height="8.03" fill="#00008b"/>
<rect x="236.08" y="395.26" width="22.07" height="8.03" fill="#00008b"/>
<rect x="258.15" y="395.26" width="22.07" height="8.03" fill="#00008b"/>
<rect x="280.22" y="395.26" width="22.07" height="8.03" fill="#00008b"/>
<rect x="302.28" y="395.26" width="22.07" height="8.03" fill="#f8dede"/>
<rect x="324.35" y="395.26" width="22.07" height="8.03" fill="#f8dede"/>
<rect x="346.42" y="395.26" width="22.07" height="8.03" fill="#f8dede"/>
<rect x="368.48" y="395.26" width="22.07" height="8.03" fill="#f9e4e4"/>
<rect x="125.75" y="403.29" width="22.07" height="8.03" fill="#00008b"/>
<rect x="147.82" y="403.29" width="22.07" height="8.03" fill="#00008b"/>
<rect x="169.88" y="403.29" width="22.07" height="8.03" fill="#dcdcf2"/>
<rect x="191.95" y="403.29" width="22.07" height="8.03" fill="#7a7ac7"/>
<rect x="214.02" y="403.29" width="22.07" height="8.03" fill="#5d5dbb"/>
<rect x="236.08" y="403.29" width="22.07" height="8.03" fill="#00008b"/>
<rect x="258.15" y="403.29" width="22.07" height="8.03" fill="#dcdcf2"/>
<rect x="280.22" y="403.29" width="22.07" height="8.03" fill="#b6b6e3"/>
<rect x="302.28" y="403.29" width="22.07" height="8.03" fill="#f8dede"/>
<rect x="324.35" y="403.29" width="22.07" height="8.03" fill="#f5d4d4"/>
<rect x="346.42" y="403.29" width="22.07" height="8.03" fill="#fcefef"/>
<rect x="368.48" y="403.29" width="22.07" height="8.03" fill="#f8dede"/>
<rect x="125.75" y="411.32" width="22.07" height="8.03" fill="#00008b"/>
<rect x="147.82" y="411.32" width="22.07" height="8.03" fill="#00008b"/>
<rect x="169.88" y="411.32" width="22.07" height="8.03" fill="#00008b"/>
<rect x="191.95" y="411.32" width="22.07" height="8.03" fill="#00008b"/>
<rect x="214.02" y="411.32" width="22.07" height="8.03" fill="#ffffff"/>
<rect x="236.08" y="411.32" width="22.07" height="8.03" fill="#00008b"/>
<rect x="258.15" y="411.32" width="22.07" height="8.03" fill="#9999d6"/>
<rect x="280.22" y="411.32" width="22.07" height="8.03" fill="#dcdcf2"/>
<rect x="302.28" y="411.32" width="22.07" height="8.03" fill="#fcf4f4"/>
<rect x="324.35" y="411.32" width="22.07" height="8.03" fill="#f5d4d4"/>
<rect x="346.42" y="411.32" width="22.07" height="8.03" fill="#f8dede"/>
<rect x="368.48" y="411.32" width="22.07" height="8.03" fill="#f8dede"/>
<rect x="125.75" y="419.35" width="22.07" height="8.03" fill="#00008b"/>
<rect x="147.82" y="419.35" width="22.07" height="8.03" fill="#00008b"/>
<rect x="169.88" y="419.35" width="22.07" height="8.03" fill="#00008b"/>
<rect x="191.95" y="419.35" width="22.07" height="8.03" fill="#00008b"/>
<rect x="214.02" y="419.35" width="22.07" height="8.03" fill="#fae8e8"/>
<rect x="236.08" y="419.35" width="22.07" height="8.03" fill="#a8a8dc"/>
<rect x="258.15" y="419.35" width="22.07" height="8.03" fill="#dcdcf2"/>
<rect x="280.22" y="419.35" width="22.07" height="8.03" fill="#dcdcf2"/>
<rect x="302.28" y="419.35" width="22.07" height="8.03" fill="#f4cfcf"/>
<rect x="324.35" y="419.35" width="22.07" height="8.03" fill="#f4cfcf"/>
<rect x="346.42" y="419.35" width="22.07" height="8.03" fill="#f2c8c8"/>
<rect x="368.48" y="419.35" width="22.07" height="8.03" fill="#fef8f8"/>
<rect x="125.75" y="427.38" width="22.07" height="8.03" fill="#00008b"/>
<rect x="147.82" y="427.38" width="22.07" height="8.03" fill="#00008b"/>
<rect x="169.88" y="427.38" width="22.07" height="8.03" fill="#00008b"/>
<rect x="191.95" y="427.38" width="22.07" height="8.03" fill="#00008b"/>
<rect x="214.02" y="427.38" width="22.07" height="8.03" fill="#c4c4e8"/>
<rect x="236.08" y="427.38" width="22.07" height="8.03" fill="#00008b"/>
<rect x="258.15" y="427.38" width="22.07" height="8.03" fill="#5d5dbb"/>
<rect x="280.22" y="427.38" width="22.07" height="8.03" fill="#c4c4e8"/>
<rect x="302.28" y="427.38" width="22.07" height="8.03" fill="#f4cfcf"/>
<rect x="324.35" y="427.38" width="22.07" height="8.03" fill="#f2c8c8"/>
<rect x="346.42" y="427.38" width="22.07" height="8.03" fill="#f4cfcf"/>
<rect x="368.48" y="427.38" width="22.07" height="8.03" fill="#f9e4e4"/>
<rect x="125.75" y="435.41" width="22.07" height="8.03" fill="#00008b"/>
<rect x="147.82" y="435.41" width="22.07" height="8.03" fill="#00008b"/>
<rect x="169.88" y="435.41" width="22.07" height="8.03" fill="#00008b"/>
<rect x="191.95" y="435.41" width="22.07" height="8.03" fill="#00008b"/>
<rect x="214.02" y="435.41" width="22.07" height="8.03" fill="#f5d4d4"/>
<rect x="236.08" y="435.41" width="22.07" height="8.03" fill="#ffffff"/>
<rect x="258.15" y="435.41" width="22.07" height="8.03" fill="#f5d4d4"/>
<rect x="280.22" y="435.41" width="22.07" height="8.03" fill="#00008b"/>
<rect x="302.28" y="435.41" width="22.07" height="8.03" fill="#f4cfcf"/>
<rect x="324.35" y="435.41" width="22.07" height="8.03" fill="#f4cfcf"/>
<rect x="346.42" y="435.41" width="22.07" height="8.03" fill="#f4cfcf"/>
<rect x="368.48" y="435.41" width="22.07" height="8.03" fill="#f8dede"/>
<rect x="125.75" y="443.44" width="22.07" height="8.03" fill="#00008b"/>
<rect x="147.82" y="443.44" width="22.07" height="8.03" fill="#00008b"/>
<rect x="169.88" y="443.44" width="22.07" height="8.03" fill="#00008b"/>
<rect x="191.95" y="443.44" width="22.07" height="8.03" fill="#00008b"/>
<rect x="214.02" y="443.44" width="22.07" height="8.03" fill="#f5d4d4"/>
<rect x="236.08" y="443.44" width="22.07" height="8.03" fill="#6c6cc1"/>
<rect x="258.15" y="443.44" width="22.07" height="8.03" fill="#dcdcf2"/>
<rect x="280.22" y="443.44" width="22.07" height="8.03" fill="#c4c4e8"/>
<rect x="302.28" y="443.44" width="22.07" height="8.03" fill="#f5d4d4"/>
<rect x="324.35" y="443.44" width="22.07" height="8.03" fill="#f8dede"/>
<rect x="346.42" y="443.44" width="22.07" height="8.03" fill="#f2c8c8"/>
<rect x="368.48" y="443.44" width="22.07" height="8.03" fill="#f8dede"/>
<rect x="125.75" y="451.47" width="22.07" height="8.03" fill="#00008b"/>
<rect x="147.82" y="451.47" width="22.07" height="8.03" fill="#00008b"/>
<rect x="169.88" y="451.47" width="22.07" height="8.03" fill="#00008b"/>
<rect x="191.95" y="451.47" width="22.07" height="8.03" fill="#00008b"/>
<rect x="214.02" y="451.47" width="22.07" height="8.03" fill="#f2c8c8"/>
<rect x="236.08" y="451.47" width="22.07" height="8.03" fill="#00008b"/>
<rect x="258.15" y="451.47" width="22.07" height="8.03" fill="#ffffff"/>
<rect x="280.22" y="451.47" width="22.07" height="8.03" fill="#e2e2f4"/>
<rect x="302.28" y="451.47" width="22.07" height="8.03" fill="#f4cfcf"/>
<rect x="324.35" y="451.47" width="22.07" height="8.03" fill="#f1c6c6"/>
<rect x="346.42" y="451.47" width="22.07" height="8.03" fill="#f3cdcd"/>
<rect x="368.48" y="451.47" width="22.07" height="8.03" fill="#f8dede"/>
</g>
<g font-family="'Liberation Serif', serif" font-weight="bold" font-style="italic" font-size="6.7" fill="#000" stroke="#000" stroke-width="0.22">
<text x="397.3" y="64.22">Phreatobacter</text>
<text x="397.3" y="72.25">Carnobacterium</text>
<text x="397.3" y="80.28">Aliivibrio</text>
<text x="397.3" y="88.30">Pseudoalteromonas</text>
<text x="397.3" y="96.33">Psychrobacter</text>
<text x="397.3" y="104.36">Shewanella</text>
<text x="397.3" y="112.39">Klebsiella</text>
<text x="397.3" y="120.42">Defluviitoga</text>
<text x="397.3" y="128.45">Escherichia-Shigella</text>
<text x="397.3" y="136.48">Bifidobacterium</text>
<text x="397.3" y="144.51">Sphingomonas</text>
<text x="397.3" y="152.54">Lactobacillus</text>
<text x="397.3" y="160.57">Staphylococcus</text>
<text x="397.3" y="168.60">norank_f__norank_o__Actinomarinales</text>
<text x="397.3" y="176.63">Achromobacter</text>
<text x="397.3" y="184.66">Candidatus_Bacilloplasma</text>
<text x="397.3" y="192.69">Vibrio</text>
<text x="397.3" y="200.72">Photobacterium</text>
<text x="397.3" y="208.75">unclassified_f__Fusobacteriaceae</text>
<text x="397.3" y="216.78">unclassified_f__Rhodobacteraceae</text>
<text x="397.3" y="224.81">ZOR0006</text>
<text x="397.3" y="232.84">Motilimonas</text>
<text x="397.3" y="240.87">Ruegeria</text>
<text x="397.3" y="248.90">norank_f__Obscuribacteraceae</text>
<text x="397.3" y="256.94">Rhodococcus</text>
<text x="397.3" y="264.96">Rubritalea</text>
<text x="397.3" y="272.99">Gemmata</text>
<text x="397.3" y="281.02">Pedobacter</text>
<text x="397.3" y="289.06">Pseudomonas</text>
<text x="397.3" y="297.08">Bacillus</text>
<text x="397.3" y="305.11">Candidatus_Obscuribacter</text>
<text x="397.3" y="313.14">norank_f__Saprospiraceae</text>
<text x="397.3" y="321.17">Delftia</text>
<text x="397.3" y="329.20">Demequina</text>
<text x="397.3" y="337.23">Maribacter</text>
<text x="397.3" y="345.26">norank_f__Caldilineaceae</text>
<text x="397.3" y="353.29">Paracoccus</text>
<text x="397.3" y="361.32">unclassified_o__Flavobacteriales</text>
<text x="397.3" y="369.35">Silicimonas</text>
<text x="397.3" y="377.38">Coxiella</text>
<text x="397.3" y="385.41">Nitrosomonas</text>
<text x="397.3" y="393.44">norank_f__unclassified</text>
<text x="397.3" y="401.47">norank_f__Vermiphilaceae</text>
<text x="397.3" y="409.50">Brumimicrobium</text>
<text x="397.3" y="417.53">Microbacterium</text>
<text x="397.3" y="425.56">Haloferula</text>
<text x="397.3" y="433.59">Mycobacterium</text>
<text x="397.3" y="441.62">Pseudoruegeria</text>
<text x="397.3" y="449.65">norank_f__Rhodobacteraceae</text>
<text x="397.3" y="457.68">Ilumatobacter</text>
</g>
<g font-family="'Liberation Serif', serif" font-weight="bold" font-size="8.15" fill="#000" stroke="#000" stroke-width="0.2" text-anchor="end">
<text transform="translate(142.67,465.80) rotate(-45)" x="0" y="0">CAP_8</text>
<text transform="translate(164.80,465.80) rotate(-45)" x="0" y="0">COS-CAP_8</text>
<text transform="translate(186.93,465.80) rotate(-45)" x="0" y="0">COS_8</text>
<text transform="translate(209.07,465.80) rotate(-45)" x="0" y="0">C_8</text>
<text transform="translate(231.20,465.80) rotate(-45)" x="0" y="0">CAP_4</text>
<text transform="translate(253.33,465.80) rotate(-45)" x="0" y="0">COS-CAP_4</text>
<text transform="translate(275.47,465.80) rotate(-45)" x="0" y="0">COS_4</text>
<text transform="translate(297.60,465.80) rotate(-45)" x="0" y="0">C_4</text>
<text transform="translate(319.73,465.80) rotate(-45)" x="0" y="0">CAP_0</text>
<text transform="translate(341.87,465.80) rotate(-45)" x="0" y="0">C_0</text>
<text transform="translate(364.00,465.80) rotate(-45)" x="0" y="0">COS_0</text>
<text transform="translate(386.13,465.80) rotate(-45)" x="0" y="0">COS-CAP_0</text>
</g>
<rect x="509" y="418" width="13.3" height="66.6" fill="url(#g)"/>
<g font-family="'Liberation Sans', sans-serif" font-size="7.9" fill="#000" stroke="#000" stroke-width="0.12">
<line x1="522.3" x2="524" y1="418.00" y2="418.00" stroke="#555" stroke-width="0.6"/><text x="526.2" y="420.50">4e+4</text>
<line x1="522.3" x2="524" y1="431.32" y2="431.32" stroke="#555" stroke-width="0.6"/><text x="526.2" y="433.82">3e+3</text>
<line x1="522.3" x2="524" y1="444.64" y2="444.64" stroke="#555" stroke-width="0.6"/><text x="526.2" y="447.14">2e+2</text>
<line x1="522.3" x2="524" y1="457.96" y2="457.96" stroke="#555" stroke-width="0.6"/><text x="526.2" y="460.46">2e+1</text>
<line x1="522.3" x2="524" y1="471.28" y2="471.28" stroke="#555" stroke-width="0.6"/><text x="526.2" y="473.78">1e+0</text>
<line x1="522.3" x2="524" y1="484.60" y2="484.60" stroke="#555" stroke-width="0.6"/><text x="526.2" y="487.10">1e-1</text>
</g>
<g stroke="#1c1c1c" stroke-width="0.72" fill="none" stroke-linecap="square">
<line x1="181.33" y1="41.70" x2="203.47" y2="41.70"/>
<line x1="181.33" y1="41.70" x2="181.33" y2="44.20"/>
<line x1="203.47" y1="41.70" x2="203.47" y2="44.20"/>
<line x1="159.20" y1="36.80" x2="192.40" y2="36.80"/>
<line x1="159.20" y1="36.80" x2="159.20" y2="44.20"/>
<line x1="192.40" y1="36.80" x2="192.40" y2="41.70"/>
<line x1="137.07" y1="26.70" x2="175.80" y2="26.70"/>
<line x1="137.07" y1="26.70" x2="137.07" y2="44.20"/>
<line x1="175.80" y1="26.70" x2="175.80" y2="36.80"/>
<line x1="225.60" y1="39.50" x2="247.73" y2="39.50"/>
<line x1="225.60" y1="39.50" x2="225.60" y2="44.20"/>
<line x1="247.73" y1="39.50" x2="247.73" y2="44.20"/>
<line x1="269.87" y1="36.50" x2="292.00" y2="36.50"/>
<line x1="269.87" y1="36.50" x2="269.87" y2="44.20"/>
<line x1="292.00" y1="36.50" x2="292.00" y2="44.20"/>
<line x1="236.67" y1="33.80" x2="280.93" y2="33.80"/>
<line x1="236.67" y1="33.80" x2="236.67" y2="39.50"/>
<line x1="280.93" y1="33.80" x2="280.93" y2="36.50"/>
<line x1="314.13" y1="38.20" x2="336.27" y2="38.20"/>
<line x1="314.13" y1="38.20" x2="314.13" y2="44.20"/>
<line x1="336.27" y1="38.20" x2="336.27" y2="44.20"/>
<line x1="358.40" y1="34.60" x2="380.53" y2="34.60"/>
<line x1="358.40" y1="34.60" x2="358.40" y2="44.20"/>
<line x1="380.53" y1="34.60" x2="380.53" y2="44.20"/>
<line x1="325.20" y1="32.20" x2="369.47" y2="32.20"/>
<line x1="325.20" y1="32.20" x2="325.20" y2="38.20"/>
<line x1="369.47" y1="32.20" x2="369.47" y2="34.60"/>
<line x1="258.80" y1="24.00" x2="347.33" y2="24.00"/>
<line x1="258.80" y1="24.00" x2="258.80" y2="33.80"/>
<line x1="347.33" y1="24.00" x2="347.33" y2="32.20"/>
<line x1="156.43" y1="12.00" x2="303.07" y2="12.00"/>
<line x1="156.43" y1="12.00" x2="156.43" y2="26.70"/>
<line x1="303.07" y1="12.00" x2="303.07" y2="24.00"/>
<line x1="112.80" y1="78.08" x2="112.80" y2="86.10"/>
<line x1="112.80" y1="78.08" x2="125.75" y2="78.08"/>
<line x1="112.80" y1="86.10" x2="125.75" y2="86.10"/>
<line x1="110.40" y1="94.13" x2="110.40" y2="102.16"/>
<line x1="110.40" y1="94.13" x2="125.75" y2="94.13"/>
<line x1="110.40" y1="102.16" x2="125.75" y2="102.16"/>
<line x1="98.40" y1="82.09" x2="98.40" y2="98.15"/>
<line x1="98.40" y1="82.09" x2="112.80" y2="82.09"/>
<line x1="98.40" y1="98.15" x2="110.40" y2="98.15"/>
<line x1="94.50" y1="70.05" x2="94.50" y2="90.12"/>
<line x1="94.50" y1="70.05" x2="125.75" y2="70.05"/>
<line x1="94.50" y1="90.12" x2="98.40" y2="90.12"/>
<line x1="124.90" y1="110.19" x2="124.90" y2="118.22"/>
<line x1="124.90" y1="110.19" x2="125.75" y2="110.19"/>
<line x1="124.90" y1="118.22" x2="125.75" y2="118.22"/>
<line x1="120.50" y1="126.25" x2="120.50" y2="134.28"/>
<line x1="120.50" y1="126.25" x2="125.75" y2="126.25"/>
<line x1="120.50" y1="134.28" x2="125.75" y2="134.28"/>
<line x1="117.40" y1="114.21" x2="117.40" y2="130.27"/>
<line x1="117.40" y1="114.21" x2="124.90" y2="114.21"/>
<line x1="117.40" y1="130.27" x2="120.50" y2="130.27"/>
<line x1="114.60" y1="150.34" x2="114.60" y2="158.38"/>
<line x1="114.60" y1="150.34" x2="125.75" y2="150.34"/>
<line x1="114.60" y1="158.38" x2="125.75" y2="158.38"/>
<line x1="112.10" y1="142.31" x2="112.10" y2="154.36"/>
<line x1="112.10" y1="142.31" x2="125.75" y2="142.31"/>
<line x1="112.10" y1="154.36" x2="114.60" y2="154.36"/>
<line x1="105.90" y1="122.24" x2="105.90" y2="148.34"/>
<line x1="105.90" y1="122.24" x2="117.40" y2="122.24"/>
<line x1="105.90" y1="148.34" x2="112.10" y2="148.34"/>
<line x1="112.70" y1="174.44" x2="112.70" y2="182.46"/>
<line x1="112.70" y1="174.44" x2="125.75" y2="174.44"/>
<line x1="112.70" y1="182.46" x2="125.75" y2="182.46"/>
<line x1="110.20" y1="190.49" x2="110.20" y2="198.52"/>
<line x1="110.20" y1="190.49" x2="125.75" y2="190.49"/>
<line x1="110.20" y1="198.52" x2="125.75" y2="198.52"/>
<line x1="108.70" y1="178.45" x2="108.70" y2="194.51"/>
<line x1="108.70" y1="178.45" x2="112.70" y2="178.45"/>
<line x1="108.70" y1="194.51" x2="110.20" y2="194.51"/>
<line x1="122.50" y1="230.64" x2="122.50" y2="238.67"/>
<line x1="122.50" y1="230.64" x2="125.75" y2="230.64"/>
<line x1="122.50" y1="238.67" x2="125.75" y2="238.67"/>
<line x1="117.00" y1="222.61" x2="117.00" y2="234.66"/>
<line x1="117.00" y1="222.61" x2="125.75" y2="222.61"/>
<line x1="117.00" y1="234.66" x2="122.50" y2="234.66"/>
<line x1="113.30" y1="214.58" x2="113.30" y2="228.64"/>
<line x1="113.30" y1="214.58" x2="125.75" y2="214.58"/>
<line x1="113.30" y1="228.64" x2="117.00" y2="228.64"/>
<line x1="106.60" y1="206.55" x2="106.60" y2="221.61"/>
<line x1="106.60" y1="206.55" x2="125.75" y2="206.55"/>
<line x1="106.60" y1="221.61" x2="113.30" y2="221.61"/>
<line x1="102.50" y1="186.48" x2="102.50" y2="214.08"/>
<line x1="102.50" y1="186.48" x2="108.70" y2="186.48"/>
<line x1="102.50" y1="214.08" x2="106.60" y2="214.08"/>
<line x1="113.70" y1="262.76" x2="113.70" y2="270.79"/>
<line x1="113.70" y1="262.76" x2="125.75" y2="262.76"/>
<line x1="113.70" y1="270.79" x2="125.75" y2="270.79"/>
<line x1="110.70" y1="254.73" x2="110.70" y2="266.78"/>
<line x1="110.70" y1="254.73" x2="125.75" y2="254.73"/>
<line x1="110.70" y1="266.78" x2="113.70" y2="266.78"/>
<line x1="117.70" y1="278.82" x2="117.70" y2="286.86"/>
<line x1="117.70" y1="278.82" x2="125.75" y2="278.82"/>
<line x1="117.70" y1="286.86" x2="125.75" y2="286.86"/>
<line x1="110.90" y1="294.88" x2="110.90" y2="302.91"/>
<line x1="110.90" y1="294.88" x2="125.75" y2="294.88"/>
<line x1="110.90" y1="302.91" x2="125.75" y2="302.91"/>
<line x1="110.40" y1="282.84" x2="110.40" y2="298.90"/>
<line x1="110.40" y1="282.84" x2="117.70" y2="282.84"/>
<line x1="110.40" y1="298.90" x2="110.90" y2="298.90"/>
<line x1="122.00" y1="327.00" x2="122.00" y2="335.03"/>
<line x1="122.00" y1="327.00" x2="125.75" y2="327.00"/>
<line x1="122.00" y1="335.03" x2="125.75" y2="335.03"/>
<line x1="121.40" y1="343.06" x2="121.40" y2="351.09"/>
<line x1="121.40" y1="343.06" x2="125.75" y2="343.06"/>
<line x1="121.40" y1="351.09" x2="125.75" y2="351.09"/>
<line x1="119.70" y1="331.02" x2="119.70" y2="347.08"/>
<line x1="119.70" y1="331.02" x2="122.00" y2="331.02"/>
<line x1="119.70" y1="347.08" x2="121.40" y2="347.08"/>
<line x1="121.20" y1="375.19" x2="121.20" y2="383.21"/>
<line x1="121.20" y1="375.19" x2="125.75" y2="375.19"/>
<line x1="121.20" y1="383.21" x2="125.75" y2="383.21"/>
<line x1="119.80" y1="367.15" x2="119.80" y2="379.20"/>
<line x1="119.80" y1="367.15" x2="125.75" y2="367.15"/>
<line x1="119.80" y1="379.20" x2="121.20" y2="379.20"/>
<line x1="118.50" y1="359.12" x2="118.50" y2="373.18"/>
<line x1="118.50" y1="359.12" x2="125.75" y2="359.12"/>
<line x1="118.50" y1="373.18" x2="119.80" y2="373.18"/>
<line x1="117.70" y1="339.05" x2="117.70" y2="366.15"/>
<line x1="117.70" y1="339.05" x2="119.70" y2="339.05"/>
<line x1="117.70" y1="366.15" x2="118.50" y2="366.15"/>
<line x1="121.40" y1="391.24" x2="121.40" y2="399.27"/>
<line x1="121.40" y1="391.24" x2="125.75" y2="391.24"/>
<line x1="121.40" y1="399.27" x2="125.75" y2="399.27"/>
<line x1="119.00" y1="407.30" x2="119.00" y2="415.33"/>
<line x1="119.00" y1="407.30" x2="125.75" y2="407.30"/>
<line x1="119.00" y1="415.33" x2="125.75" y2="415.33"/>
<line x1="117.20" y1="395.26" x2="117.20" y2="411.32"/>
<line x1="117.20" y1="395.26" x2="121.40" y2="395.26"/>
<line x1="117.20" y1="411.32" x2="119.00" y2="411.32"/>
<line x1="119.80" y1="423.36" x2="119.80" y2="431.39"/>
<line x1="119.80" y1="423.36" x2="125.75" y2="423.36"/>
<line x1="119.80" y1="431.39" x2="125.75" y2="431.39"/>
<line x1="118.10" y1="447.45" x2="118.10" y2="455.48"/>
<line x1="118.10" y1="447.45" x2="125.75" y2="447.45"/>
<line x1="118.10" y1="455.48" x2="125.75" y2="455.48"/>
<line x1="117.30" y1="439.42" x2="117.30" y2="451.47"/>
<line x1="117.30" y1="439.42" x2="125.75" y2="439.42"/>
<line x1="117.30" y1="451.47" x2="118.10" y2="451.47"/>
<line x1="116.30" y1="427.38" x2="116.30" y2="445.45"/>
<line x1="116.30" y1="427.38" x2="119.80" y2="427.38"/>
<line x1="116.30" y1="445.45" x2="117.30" y2="445.45"/>
<line x1="114.40" y1="403.29" x2="114.40" y2="436.41"/>
<line x1="114.40" y1="403.29" x2="117.20" y2="403.29"/>
<line x1="114.40" y1="436.41" x2="116.30" y2="436.41"/>
<line x1="111.80" y1="352.60" x2="111.80" y2="419.85"/>
<line x1="111.80" y1="352.60" x2="117.70" y2="352.60"/>
<line x1="111.80" y1="419.85" x2="114.40" y2="419.85"/>
<line x1="108.30" y1="318.97" x2="108.30" y2="386.23"/>
<line x1="108.30" y1="318.97" x2="125.75" y2="318.97"/>
<line x1="108.30" y1="386.23" x2="111.80" y2="386.23"/>
<line x1="106.60" y1="310.94" x2="106.60" y2="352.60"/>
<line x1="106.60" y1="310.94" x2="125.75" y2="310.94"/>
<line x1="106.60" y1="352.60" x2="108.30" y2="352.60"/>
<line x1="103.90" y1="290.87" x2="103.90" y2="331.77"/>
<line x1="103.90" y1="290.87" x2="110.40" y2="290.87"/>
<line x1="103.90" y1="331.77" x2="106.60" y2="331.77"/>
<line x1="102.40" y1="260.76" x2="102.40" y2="311.32"/>
<line x1="102.40" y1="260.76" x2="110.70" y2="260.76"/>
<line x1="102.40" y1="311.32" x2="103.90" y2="311.32"/>
<line x1="100.20" y1="246.70" x2="100.20" y2="286.04"/>
<line x1="100.20" y1="246.70" x2="125.75" y2="246.70"/>
<line x1="100.20" y1="286.04" x2="102.40" y2="286.04"/>
<line x1="97.20" y1="200.28" x2="97.20" y2="266.37"/>
<line x1="97.20" y1="200.28" x2="102.50" y2="200.28"/>
<line x1="97.20" y1="266.37" x2="100.20" y2="266.37"/>
<line x1="94.90" y1="166.40" x2="94.90" y2="233.33"/>
<line x1="94.90" y1="166.40" x2="125.75" y2="166.40"/>
<line x1="94.90" y1="233.33" x2="97.20" y2="233.33"/>
<line x1="93.80" y1="135.29" x2="93.80" y2="199.87"/>
<line x1="93.80" y1="135.29" x2="105.90" y2="135.29"/>
<line x1="93.80" y1="199.87" x2="94.90" y2="199.87"/>
<line x1="91.10" y1="80.08" x2="91.10" y2="167.58"/>
<line x1="91.10" y1="80.08" x2="94.50" y2="80.08"/>
<line x1="91.10" y1="167.58" x2="93.80" y2="167.58"/>
<line x1="90.30" y1="62.02" x2="90.30" y2="123.83"/>
<line x1="90.30" y1="62.02" x2="125.75" y2="62.02"/>
<line x1="90.30" y1="123.83" x2="91.10" y2="123.83"/>
</g>
</svg>
</body></html>
